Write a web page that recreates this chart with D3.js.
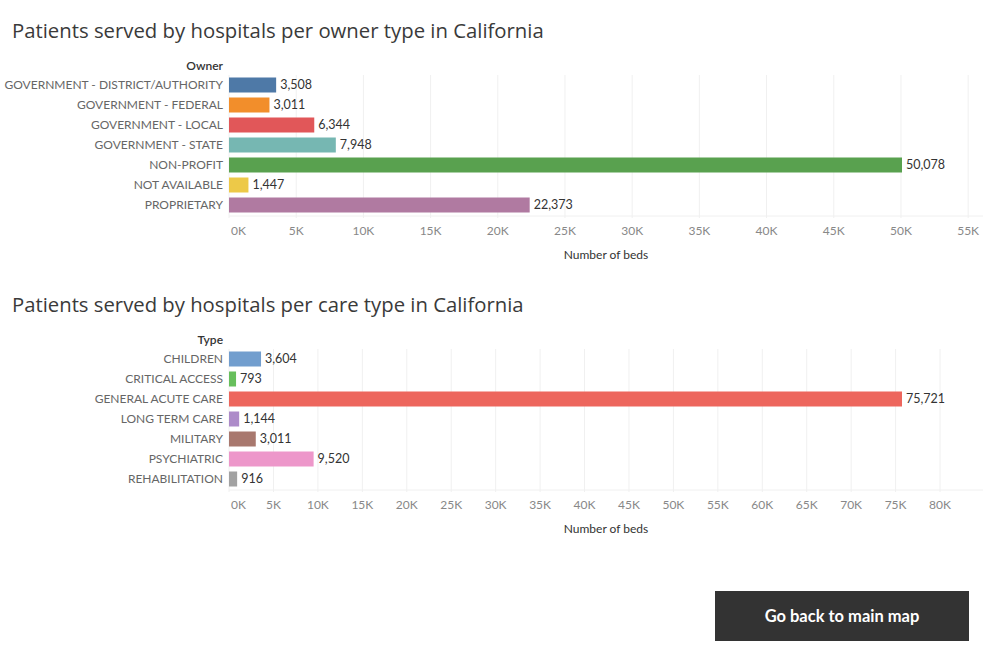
<!DOCTYPE html>
<html>
<head>
<meta charset="utf-8">
<script src="https://cdn.jsdelivr.net/npm/d3@7"></script>
<style>
  body { margin: 0; background: #fff; }
  svg { display: block; font-family: Lato, "Open Sans", sans-serif; }
</style>
</head>
<body>
<svg id="chart" width="993" height="657"></svg>
<script>
// owner chart
var ownerNames = ["GOVERNMENT - DISTRICT/AUTHORITY", "GOVERNMENT - FEDERAL", "GOVERNMENT - LOCAL",
  "GOVERNMENT - STATE", "NON-PROFIT", "NOT AVAILABLE", "PROPRIETARY"];
var ownerBeds = [3508, 3011, 6344, 7948, 50078, 1447, 22373];
var ownerColors = ["#4e79a7", "#f28e2b", "#e15759", "#76b7b2", "#59a14f", "#edc948", "#b07aa1"];
var ownerTicks = [0, 5000, 10000, 15000, 20000, 25000, 30000, 35000, 40000, 45000, 50000, 55000];

// care type chart
var typeNames = ["CHILDREN", "CRITICAL ACCESS", "GENERAL ACUTE CARE", "LONG TERM CARE",
  "MILITARY", "PSYCHIATRIC", "REHABILITATION"];
var typeBeds = [3604, 793, 75721, 1144, 3011, 9520, 916];
var typeColors = ["#729ece", "#67bf5c", "#ed665d", "#ad8bc9", "#a8786e", "#ed97ca", "#a2a2a2"];
var typeTicks = [0, 5000, 10000, 15000, 20000, 25000, 30000, 35000, 40000, 45000, 50000, 55000,
  60000, 65000, 70000, 75000, 80000];

var svg = d3.select("#chart");
var fmt = d3.format(",");

function drawBars(opts) {
  var g = svg.append("g").attr("transform", "translate(0," + opts.top + ")");

  // title, sized so it spans about as wide as the original
  var title = g.append("text")
    .attr("x", 12).attr("y", opts.titleY)
    .attr("font-family", "'Open Sans', sans-serif")
    .attr("font-size", 19).attr("fill", "#3a3a3a")
    .text(opts.title);
  var w = title.node().getComputedTextLength();
  title.attr("font-size", 19 * opts.titleW / w);

  var x = d3.scaleLinear().domain([0, opts.max]).range([229, 983]);
  var y = d3.scaleBand().domain(opts.names).range([opts.plotTop, opts.plotTop + 140]).paddingInner(0.25).paddingOuter(0.125);

  // gridlines
  g.selectAll("line.grid").data(opts.ticks).enter().append("line")
    .attr("x1", d => x(d)).attr("x2", d => x(d))
    .attr("y1", opts.plotTop).attr("y2", opts.plotTop + 143)
    .attr("stroke", "#f0f0f0").attr("stroke-width", 1);
  g.append("line")
    .attr("x1", 229).attr("x2", 983)
    .attr("y1", opts.plotTop + 141).attr("y2", opts.plotTop + 141)
    .attr("stroke", "#f0f0f0");

  // header
  g.append("text")
    .attr("x", 223).attr("y", opts.plotTop - 5)
    .attr("text-anchor", "end").attr("font-size", 12).attr("font-weight", 600).attr("fill", "#333")
    .text(opts.header);

  // category labels
  g.selectAll("text.cat").data(opts.names).enter().append("text")
    .attr("x", 223).attr("y", d => y(d) + y.bandwidth() / 2)
    .attr("dy", "0.35em").attr("text-anchor", "end")
    .attr("font-size", 12).attr("fill", "#666")
    .text(d => d);

  // bars
  g.selectAll("rect.bar").data(opts.values).enter().append("rect")
    .attr("x", x(0)).attr("y", (d, i) => y(opts.names[i]))
    .attr("width", d => x(d) - x(0)).attr("height", y.bandwidth())
    .attr("fill", (d, i) => opts.colors[i]);

  // value labels
  g.selectAll("text.val").data(opts.values).enter().append("text")
    .attr("x", d => x(d) + 4).attr("y", (d, i) => y(opts.names[i]) + y.bandwidth() / 2)
    .attr("dy", "0.35em").attr("font-size", 12.5).attr("fill", "#333")
    .text(d => fmt(d));

  // tick labels
  g.selectAll("text.tick").data(opts.ticks).enter().append("text")
    .attr("x", (d, i) => i === 0 ? x(d) + 2 : x(d))
    .attr("y", opts.plotTop + 160)
    .attr("text-anchor", (d, i) => i === 0 ? "start" : "middle")
    .attr("font-size", 12).attr("fill", "#888")
    .text(d => (d / 1000) + "K");

  g.append("text")
    .attr("x", 606).attr("y", opts.plotTop + 184)
    .attr("text-anchor", "middle").attr("font-size", 12).attr("fill", "#333")
    .text("Number of beds");
}

drawBars({ top: 0, titleY: 38, plotTop: 75, title: "Patients served by hospitals per owner type in California",
  titleW: 532, header: "Owner", names: ownerNames, values: ownerBeds, colors: ownerColors, ticks: ownerTicks,
  max: 50078 * (983 - 229) / (902 - 229) });

drawBars({ top: 274, titleY: 38, plotTop: 75, title: "Patients served by hospitals per care type in California",
  titleW: 512, header: "Type", names: typeNames, values: typeBeds, colors: typeColors, ticks: typeTicks,
  max: 75721 * (983 - 229) / (902 - 229) });

// button
svg.append("rect").attr("x", 715).attr("y", 591).attr("width", 254).attr("height", 50).attr("fill", "#333");
svg.append("text").attr("x", 842).attr("y", 616).attr("dy", "0.35em")
  .attr("text-anchor", "middle").attr("font-size", 16.5).attr("font-weight", 700).attr("fill", "#fff")
  .text("Go back to main map");
</script>
</body>
</html>
